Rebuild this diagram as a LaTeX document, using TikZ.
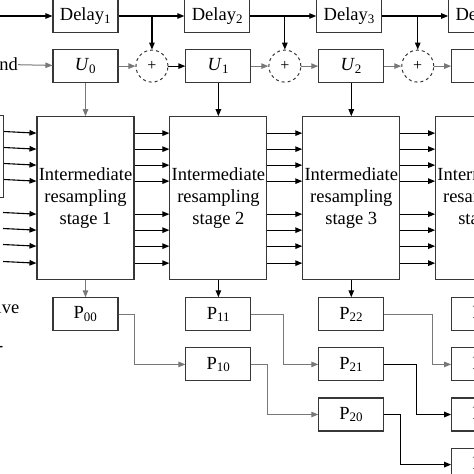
\documentclass[tikz,border=0pt]{standalone}
\usepackage{fontspec}
\setmainfont{Liberation Serif}
\usetikzlibrary{positioning,arrows.meta}
\definecolor{lineGray}{RGB}{120,120,120}
\definecolor{boxGray}{RGB}{55,55,55}

\begin{document}
\begin{tikzpicture}[x=1pt, y=-1pt, node distance=65.8pt, >={Triangle[length=7pt,width=5.5pt]},
  blk/.style={draw=boxGray, line width=1.1pt, rectangle, minimum width=65pt, minimum height=33pt, inner sep=0pt, font=\fontsize{18.5}{20}\selectfont},
  stagebox/.style={draw=boxGray, line width=1.1pt, rectangle, minimum width=97pt, minimum height=163pt, inner sep=0pt, align=center, font=\fontsize{18.5}{22}\selectfont},
  sumnode/.style={draw=boxGray, dashed, line width=1pt, circle, minimum size=32pt, inner sep=0pt, font=\fontsize{16}{16}\selectfont},
  sig/.style={->, line width=1.1pt},
  gsig/.style={->, line width=1pt, lineGray}]
  \useasboundingbox (0,0) rectangle (474,474);
  \clip (0,0) rectangle (474,474);

  % delay chain
  \node[blk] (d1) at (85.5,16) {Delay\textsubscript{1}};
  \node[blk, right=of d1] (d2) {Delay\textsubscript{2}};
  \node[blk, right=of d2] (d3) {Delay\textsubscript{3}};
  \node[blk, right=of d3] (d4) {Delay\textsubscript{4}};

  % update row
  \node[blk, below=16pt of d1] (u0) {\textit{U}\textsubscript{0}};
  \node[sumnode, right=16.9pt of u0] (c1) {+};
  \node[blk, right=16.9pt of c1] (u1) {\textit{U}\textsubscript{1}};
  \node[sumnode, right=16.9pt of u1] (c2) {+};
  \node[blk, right=16.9pt of c2] (u2) {\textit{U}\textsubscript{2}};
  \node[sumnode, right=16.9pt of u2] (c3) {+};
  \node[blk, right=16.9pt of c3] (u3) {\textit{U}\textsubscript{3}};

  % stages
  \node[stagebox, below=33pt of u0] (s1) {Intermediate\\resampling\\stage 1};
  \node[stagebox, below=33pt of u1] (s2) {Intermediate\\resampling\\stage 2};
  \node[stagebox, below=33pt of u2] (s3) {Intermediate\\resampling\\stage 3};
  \node[stagebox, below=33pt of u3] (s4) {Intermediate\\resampling\\stage 4};
  \node[draw=boxGray, line width=1.1pt, minimum width=44pt, minimum height=82pt, anchor=north east] (ext) at (4,114.5) {};
  \coordinate (lin) at (3,114.5);

  % partition boxes
  \node[blk, below=17pt of s1] (p00) {P\textsubscript{00}};
  \node[blk, below=17pt of s2] (p11) {P\textsubscript{11}};
  \node[blk, below=16pt of p11] (p10) {P\textsubscript{10}};
  \node[blk, below=17pt of s3] (p22) {P\textsubscript{22}};
  \node[blk, below=16pt of p22] (p21) {P\textsubscript{21}};
  \node[blk, below=16pt of p21] (p20) {P\textsubscript{20}};
  \node[blk, below=17pt of s4] (p33) {P\textsubscript{33}};
  \node[blk, below=16pt of p33] (p32) {P\textsubscript{32}};
  \node[blk, below=16pt of p32] (p31) {P\textsubscript{31}};
  \node[blk, below=16pt of p31] (p30) {P\textsubscript{30}};

  % cut-off labels on the left
  \node[anchor=east, inner sep=0pt, font=\fontsize{18.5}{20}\selectfont] (lnd) at (18,64.5) {nd};
  \node[anchor=east, inner sep=0pt, font=\fontsize{18.5}{20}\selectfont] (lve) at (19.5,307) {ive};
  \node[anchor=east, inner sep=0pt, font=\fontsize{18.5}{20}\selectfont] (ldash) at (3.5,349) {-};
  \coordinate (din) at (0,16);

  \draw[sig] (din) -- (d1);
  \draw[sig] (d1) -- (d2);
  \draw[sig] (d2) -- (d3);
  \draw[sig] (d3) -- (d4);
  \draw[sig] (c1 |- d1.east) -- (c1);
  \draw[sig] (c2 |- d2.east) -- (c2);
  \draw[sig] (c3 |- d3.east) -- (c3);

  \draw[gsig] (lnd) -- (u0);
  \draw[gsig] (u0) -- (c1);
  \draw[sig] (c1) -- (u1);
  \draw[gsig] (u1) -- (c2);
  \draw[gsig] (c2) -- (u2);
  \draw[gsig] (u2) -- (c3);
  \draw[gsig] (c3) -- (u3);

  \draw[gsig] (u0) -- (s1);
  \draw[sig] (u1) -- (s2);
  \draw[sig] (u2) -- (s3);
  \draw[sig] (u3) -- (s4);

  \foreach \k in {17,33,49,65} {
    \draw[sig] ([yshift=-\k pt]ext.north east) -- ([yshift=-\k pt]s1.north west);
  }
  \foreach \k in {98,114,130,147} {
    \draw[sig] ([yshift=-\k pt]lin) -- ([yshift=-\k pt]s1.north west);
  }
  \foreach \k in {17,33,49,65,98,114,130,147} {
    \draw[sig] ([yshift=-\k pt]s1.north east) -- ([yshift=-\k pt]s2.north west);
    \draw[sig] ([yshift=-\k pt]s2.north east) -- ([yshift=-\k pt]s3.north west);
    \draw[sig] ([yshift=-\k pt]s3.north east) -- ([yshift=-\k pt]s4.north west);
  }

  \draw[gsig] (s1) -- (p00);
  \draw[sig] (s2) -- (p11);
  \draw[sig] (s3) -- (p22);
  \draw[sig] (s4) -- (p33);

  \draw[gsig] (p00.east) -- ++(16,0) |- (p10);
  \draw[gsig] (p11.east) -- ++(32,0) |- (p21);
  \draw[gsig] (p10.east) -- ++(16,0) |- (p20);
  \draw[gsig] (p22.east) -- ++(48,0) |- (p32);
  \draw[sig] (p21.east) -- ++(32,0) |- (p31);
  \draw[sig] (p20.east) -- ++(16,0) |- (p30);
\end{tikzpicture}
\end{document}
